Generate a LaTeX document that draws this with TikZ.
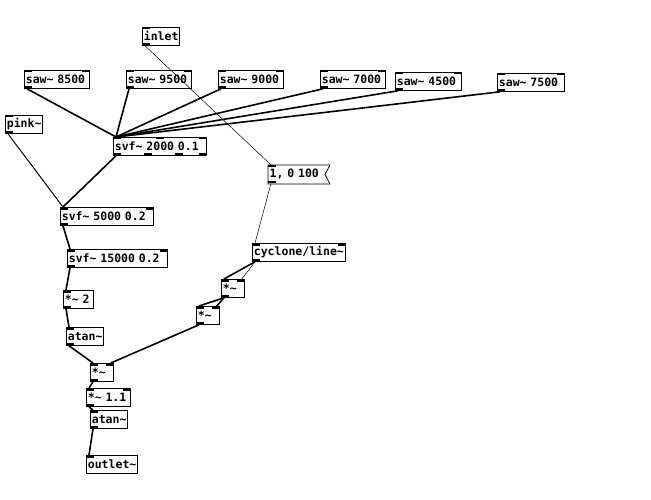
\documentclass[tikz,border=0pt]{standalone}
\usepackage{fontspec}
\setmainfont{DejaVu Sans Mono}
\usetikzlibrary{calc}
\begin{document}
\begin{tikzpicture}[x=1pt,y=-1pt,
  obj/.style={draw,line width=0.8pt,anchor=north west,inner sep=1.5pt,align=left,font=\fontsize{11.5}{12}\selectfont\bfseries,minimum height=18pt},
  msg/.style={anchor=north west,inner sep=1.5pt,align=left,font=\fontsize{11.5}{12}\selectfont\bfseries,minimum height=18pt},
  sig/.style={line width=1.6pt},
  ctl/.style={line width=0.5pt}]
\useasboundingbox (0,0) rectangle (651,500);
\fill[white] (0,0) rectangle (651,500);
\newcommand{\pdbox}[4]{\node[obj,text width=#3-5pt] (#1) at #2 {#4};}
\pdbox{inlet}{(142,27)}{39pt}{inlet}
\pdbox{s1}{(24,70)}{67pt}{saw\char`~{} 8500}
\pdbox{s2}{(126,70)}{67pt}{saw\char`~{} 9500}
\pdbox{s3}{(218,70)}{67pt}{saw\char`~{} 9000}
\pdbox{s4}{(320,70)}{67pt}{saw\char`~{} 7000}
\pdbox{s5}{(395,72)}{68pt}{saw\char`~{} 4500}
\pdbox{s6}{(497,73)}{69pt}{saw\char`~{} 7500}
\pdbox{pink}{(5,115)}{39pt}{pink\char`~}
\pdbox{f1}{(113,137)}{95pt}{svf\char`~{} 2000 0.1}
\pdbox{f2}{(60,207)}{95pt}{svf\char`~{} 5000 0.2}
\pdbox{f3}{(67,249)}{102pt}{svf\char`~{} 15000 0.2}
\pdbox{line}{(252,243)}{95pt}{cyclone/line\char`~}
\pdbox{ma}{(221,279)}{25pt}{*\char`~}
\pdbox{mb}{(196,306)}{25pt}{*\char`~}
\pdbox{m2}{(63,290)}{32pt}{*\char`~{} 2}
\pdbox{at1}{(66,327)}{39pt}{atan\char`~}
\pdbox{mc}{(90,363)}{25pt}{*\char`~}
\pdbox{m11}{(86,388)}{46pt}{*\char`~{} 1.1}
\pdbox{at2}{(90,410)}{39pt}{atan\char`~}
\pdbox{out}{(86,455)}{53pt}{outlet\char`~}
\node[msg,text width=57pt] (msgn) at (268,165) {1, 0 100};
\draw[line width=0.8pt] (268,165) -- (330,165) -- (325,174.5) -- (330,184) -- (268,184) -- cycle;
% tabs
\foreach \n in {inlet,s1,s2,s3,s4,s5,s6,pink,f1,f2,f3,line,ma,mb,m2,at1,mc,m11,at2,out,msgn}{
  \fill ($(\n.north west)$) rectangle ++(8,2.5);
}
\foreach \n in {inlet,s1,s2,s3,s4,s5,s6,pink,f1,f2,f3,line,ma,mb,m2,at1,mc,m11,at2,msgn}{
  \fill ($(\n.south west)$) rectangle ++(8,-2.5);
}
\foreach \n in {s1,s2,s3,s4,s5,s6,f1,f2,f3,ma,mb,mc,m11,line}{
  \fill ($(\n.north east)$) rectangle ++(-8,2.5);
}
\fill ($(f1.north west)!0.5!(f1.north east)+(-4,0)$) rectangle ++(8,2.5);
\fill ($(f1.south west)!0.33!(f1.south east)$) rectangle ++(8,-2.5);
\fill ($(f1.south west)!0.66!(f1.south east)$) rectangle ++(8,-2.5);
\fill ($(f1.south east)$) rectangle ++(-8,-2.5);
% connections
\foreach \n in {s1,s2,s3,s4,s5,s6}{
  \draw[sig] ($(\n.south west)+(3,0)$) -- ($(f1.north west)+(3,0)$);
}
\draw[ctl,line width=1pt] ($(pink.south west)+(3,0)$) -- ($(f2.north west)+(3,0)$);
\draw[sig] ($(f1.south west)+(3,0)$) -- ($(f2.north west)+(3,0)$);
\draw[sig] ($(f2.south west)+(3,0)$) -- ($(f3.north west)+(3,0)$);
\draw[sig] ($(f3.south west)+(3,0)$) -- ($(m2.north west)+(3,0)$);
\draw[sig] ($(m2.south west)+(3,0)$) -- ($(at1.north west)+(3,0)$);
\draw[sig] ($(at1.south west)+(3,0)$) -- ($(mc.north west)+(3,0)$);
\draw[ctl] ($(inlet.south west)+(3,0)$) -- ($(msgn.north west)+(3,0)$);
\draw[ctl] ($(msgn.south west)+(3,0)$) -- ($(line.north west)+(3,0)$);
\draw[sig] ($(line.south west)+(3,0)$) -- ($(ma.north west)+(3,0)$);
\draw[ctl] ($(line.south west)+(3,0)$) -- ($(ma.north east)+(-3,0)$);
\draw[sig] ($(ma.south west)+(3,0)$) -- ($(mb.north west)+(3,0)$);
\draw[sig] ($(ma.south west)+(3,0)$) -- ($(mb.north east)+(-3,0)$);
\draw[sig] ($(mb.south west)+(3,0)$) -- ($(mc.north east)+(-3,0)$);
\draw[sig] ($(mc.south west)+(3,0)$) -- ($(m11.north west)+(3,0)$);
\draw[sig] ($(m11.south west)+(3,0)$) -- ($(at2.north west)+(3,0)$);
\draw[sig] ($(at2.south west)+(3,0)$) -- ($(out.north west)+(3,0)$);
\end{tikzpicture}
\end{document}
